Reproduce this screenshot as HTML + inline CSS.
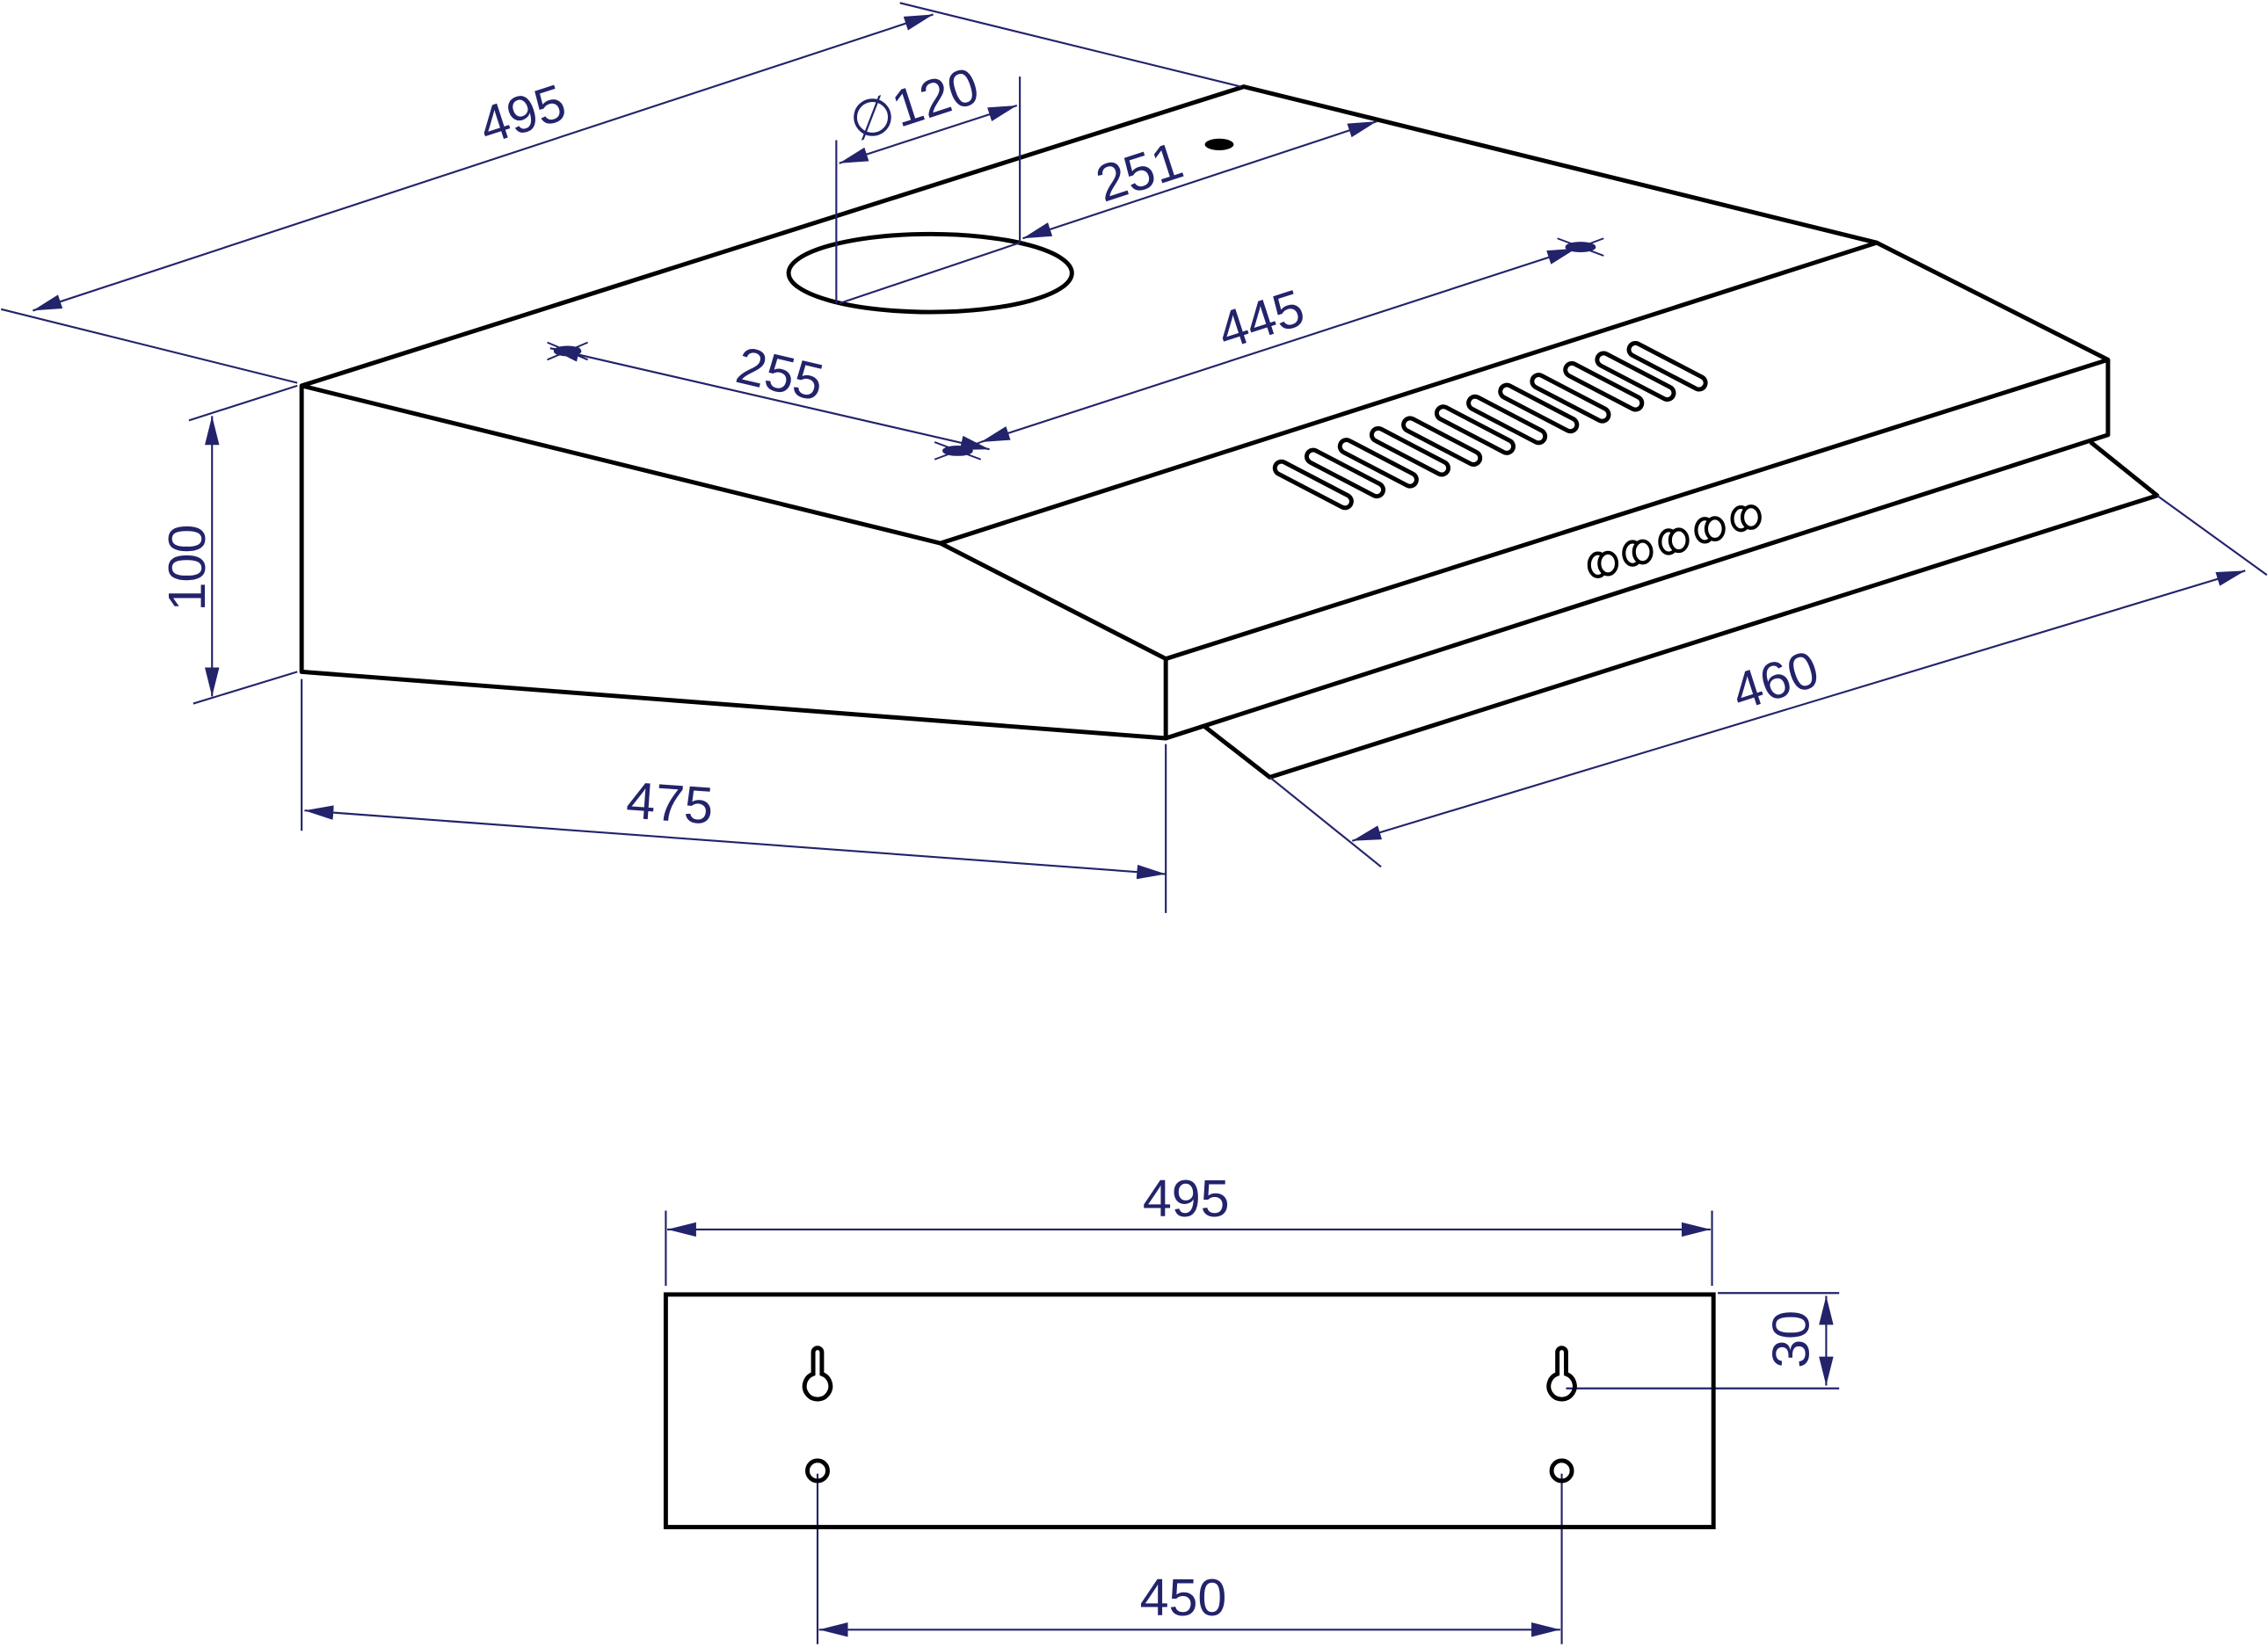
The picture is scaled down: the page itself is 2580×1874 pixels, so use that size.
<!DOCTYPE html>
<html><head><meta charset="utf-8"><style>
html,body{margin:0;padding:0;background:#fff}
svg{display:block}
text{font-family:"Liberation Sans",sans-serif;fill:#23236b;font-size:36px}
</style></head><body>
<svg width="2580" height="1874" viewBox="0 0 1568 1140" xmlns="http://www.w3.org/2000/svg">
<defs>
<marker id="a" viewBox="0 0 20 10" refX="20" refY="5" markerWidth="20" markerHeight="10" markerUnits="userSpaceOnUse" orient="auto-start-reverse">
<path d="M0,0 L20,5 L0,10 z" fill="#23236b"/></marker>
<g id="sl"><line x1="0" y1="0" x2="44" y2="23" stroke="#000" stroke-width="12"/><line x1="0" y1="0" x2="44" y2="23" stroke="#fff" stroke-width="6"/></g>
</defs>
<g stroke="#000" stroke-width="3" fill="none" stroke-linejoin="round">
<path d="M208,267 L860,60 L1298,168 L650,376 Z"/>
<path d="M208,267 L208,465 L806,511 L806,456 L650,376"/>
<path d="M806,456 L1458,249 L1298,168"/>
<path d="M1458,249 L1458,301 L806,511"/>
<path d="M1446,306 L1492,343 L878,538 L833,503"/>
<ellipse cx="643" cy="189" rx="98" ry="27"/>
</g>
<ellipse cx="843" cy="100" rx="10" ry="4" fill="#000"/>
<g stroke-linecap="round" fill="none">
<use href="#sl" x="886" y="324"/>
<use href="#sl" x="908" y="316"/>
<use href="#sl" x="931" y="309"/>
<use href="#sl" x="953" y="301"/>
<use href="#sl" x="975" y="294"/>
<use href="#sl" x="998" y="286"/>
<use href="#sl" x="1020" y="279"/>
<use href="#sl" x="1042" y="271"/>
<use href="#sl" x="1064" y="264"/>
<use href="#sl" x="1087" y="256"/>
<use href="#sl" x="1109" y="249"/>
<use href="#sl" x="1131" y="242"/>
</g>
<g stroke="#000" stroke-width="2.5" fill="#fff">
<ellipse cx="1105" cy="391" rx="6" ry="8"/><ellipse cx="1112" cy="390" rx="6" ry="7.5"/>
<ellipse cx="1129" cy="383" rx="6" ry="8"/><ellipse cx="1136" cy="382" rx="6" ry="7.5"/>
<ellipse cx="1154" cy="375" rx="6" ry="8"/><ellipse cx="1161" cy="374" rx="6" ry="7.5"/>
<ellipse cx="1179" cy="367" rx="6" ry="8"/><ellipse cx="1186" cy="366" rx="6" ry="7.5"/>
<ellipse cx="1204" cy="359" rx="6" ry="8"/><ellipse cx="1211" cy="358" rx="6" ry="7.5"/>
</g>
<g fill="#23236b" stroke="#23236b" stroke-width="1.2">
<ellipse cx="392" cy="243" rx="9" ry="3"/><line x1="378" y1="237" x2="406" y2="249"/><line x1="378" y1="249" x2="406" y2="237"/>
<ellipse cx="662" cy="312" rx="10" ry="3"/><line x1="646" y1="306" x2="678" y2="318"/><line x1="646" y1="318" x2="678" y2="306"/>
<ellipse cx="1093" cy="171" rx="10" ry="3"/><line x1="1077" y1="165" x2="1109" y2="177"/><line x1="1077" y1="177" x2="1109" y2="165"/>
</g>
<g stroke="#23236b" stroke-width="1.3" fill="none">
<line x1="0" y1="214" x2="205" y2="265"/><line x1="622" y1="2" x2="858" y2="60"/>
<line x1="22" y1="215" x2="645" y2="10" marker-start="url(#a)" marker-end="url(#a)"/>
<line x1="578" y1="97" x2="578" y2="210"/><line x1="705" y1="53" x2="705" y2="168"/>
<line x1="580" y1="113" x2="703" y2="73" marker-start="url(#a)" marker-end="url(#a)"/>
<line x1="580" y1="210" x2="705" y2="168"/>
<line x1="707" y1="165" x2="952" y2="84" marker-start="url(#a)" marker-end="url(#a)"/>
<line x1="678" y1="306" x2="1090" y2="172" marker-start="url(#a)" marker-end="url(#a)"/>
<line x1="380" y1="241" x2="684" y2="311" marker-start="url(#a)" marker-end="url(#a)"/>
<line x1="130" y1="291" x2="205" y2="267"/><line x1="133" y1="487" x2="205" y2="465"/>
<line x1="146" y1="288" x2="146" y2="482" marker-start="url(#a)" marker-end="url(#a)"/>
<line x1="208" y1="470" x2="208" y2="575"/><line x1="806" y1="515" x2="806" y2="632"/>
<line x1="210" y1="561" x2="806" y2="605" marker-start="url(#a)" marker-end="url(#a)"/>
<line x1="1492" y1="343" x2="1568" y2="398"/><line x1="878" y1="538" x2="955" y2="600"/>
<line x1="935" y1="582" x2="1553" y2="395" marker-start="url(#a)" marker-end="url(#a)"/>
<line x1="460" y1="838" x2="460" y2="890"/><line x1="1184" y1="838" x2="1184" y2="890"/>
<line x1="461" y1="851" x2="1183" y2="851" marker-start="url(#a)" marker-end="url(#a)"/>
<line x1="1188" y1="895" x2="1272" y2="895"/><line x1="1083" y1="961" x2="1272" y2="961"/>
<line x1="1263" y1="897" x2="1263" y2="959" marker-start="url(#a)" marker-end="url(#a)"/>
<line x1="565" y1="1020" x2="565" y2="1138"/><line x1="1080" y1="1020" x2="1080" y2="1138"/>
<line x1="566" y1="1128" x2="1079" y2="1128" marker-start="url(#a)" marker-end="url(#a)"/>
</g>
<g stroke="#000" stroke-width="3" fill="none">
<rect x="460" y="896" width="725" height="161"/>
<path d="M562,951 L562,936 A3,3 0 0 1 568,936 L568,951 A9,9 0 1 1 562,951 Z"/>
<path d="M1077,951 L1077,936 A3,3 0 0 1 1083,936 L1083,951 A9,9 0 1 1 1077,951 Z"/>
<circle cx="565" cy="1018" r="7"/><circle cx="1080" cy="1018" r="7"/>
</g>
<text transform="translate(336,100) rotate(-18)">495</text>
<text transform="translate(592,98) rotate(-18)">∅120</text>
<text transform="translate(763,140) rotate(-18)">251</text>
<text transform="translate(847,242) rotate(-18)">445</text>
<text transform="translate(507,264) rotate(13)">255</text>
<text transform="translate(141,423) rotate(-90)">100</text>
<text transform="translate(432,566) rotate(4)">475</text>
<text transform="translate(1203,492) rotate(-18)">460</text>
<text x="790" y="842">495</text>
<text transform="translate(1251,947) rotate(-90)">30</text>
<text x="788" y="1118">450</text>
</svg>
</body></html>
